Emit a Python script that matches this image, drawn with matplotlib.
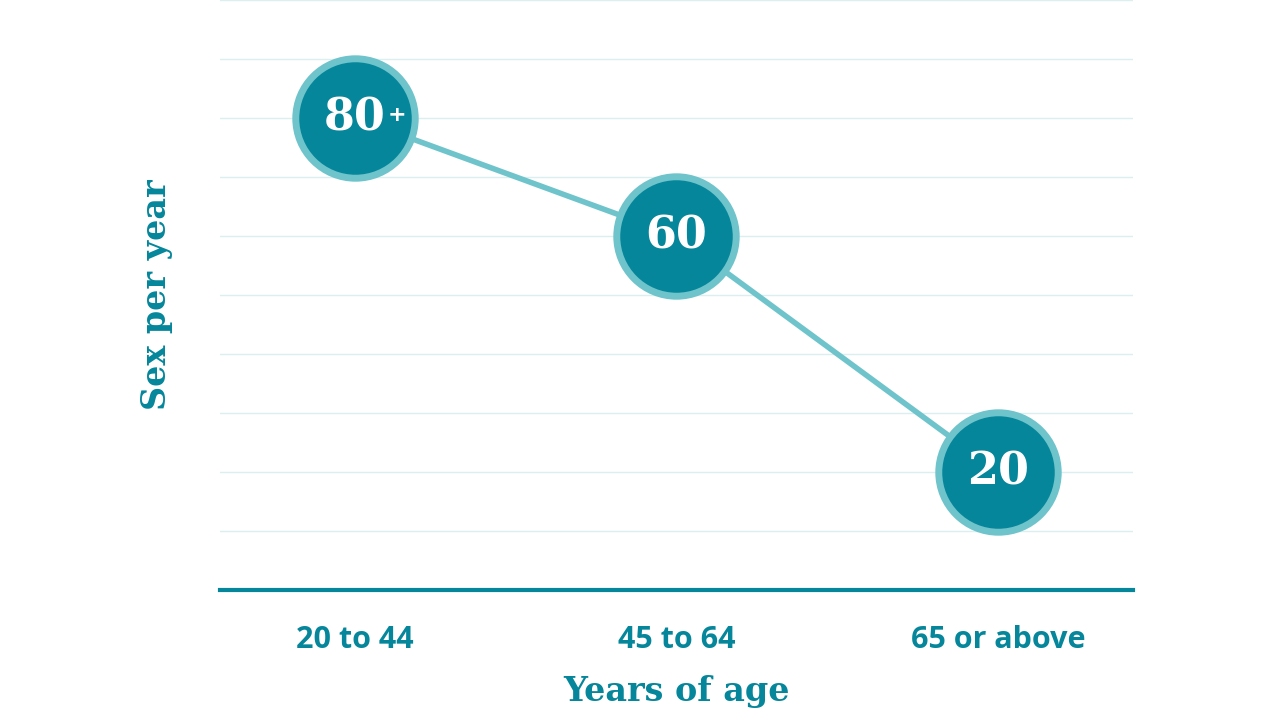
import matplotlib.pyplot as plt

ages = ["20 to 44", "45 to 64", "65 or above"]
sex_per_year = [80, 60, 20]
point_labels = ["80", "60", "20"]

DARK = "#05869a"
LIGHT = "#6fc4cc"
GRID = "#dcefef"

fig = plt.figure(figsize=(12.8, 7.2), dpi=100)
ax = fig.add_axes([0.172, 0.181, 0.713, 0.819])
xs = list(range(len(ages)))

ax.plot(xs, sex_per_year, color=LIGHT, lw=4, zorder=2)
ax.plot(xs, sex_per_year, "o", ms=86, mfc=DARK, mec=LIGHT, mew=5, zorder=3)
for x, y, lab in zip(xs, sex_per_year, point_labels):
    ax.text(x, y, lab, color="white", fontsize=32, fontweight="bold",
            family="DejaVu Serif", ha="center", va="center", zorder=4)
ax.text(xs[0] + 0.13, sex_per_year[0] + 0.5, "+", color="white", fontsize=16,
        fontweight="bold", ha="center", va="center", zorder=4)

ax.set_xlim(-0.42, 2.42)
ax.set_ylim(0, 100)
ax.set_yticks(range(10, 101, 10))
ax.yaxis.grid(True, color=GRID, lw=1)
ax.set_axisbelow(True)
ax.tick_params(left=False, labelleft=False, bottom=False)
for s in ["top", "right", "left"]:
    ax.spines[s].set_visible(False)
ax.spines["bottom"].set_color(DARK)
ax.spines["bottom"].set_linewidth(3)

ax.set_xticks(xs)
ax.set_xticklabels(ages, color=DARK, fontsize=22, fontweight="bold", family="Open Sans")
ax.tick_params(axis="x", pad=22)
ax.set_xlabel("Years of age", color=DARK, fontsize=24, fontweight="bold",
              family="DejaVu Serif", labelpad=14)
ax.set_ylabel("Sex per year", color=DARK, fontsize=24, fontweight="bold",
              family="DejaVu Serif", labelpad=34)

fig.savefig("out.png", dpi=100, facecolor="white")
